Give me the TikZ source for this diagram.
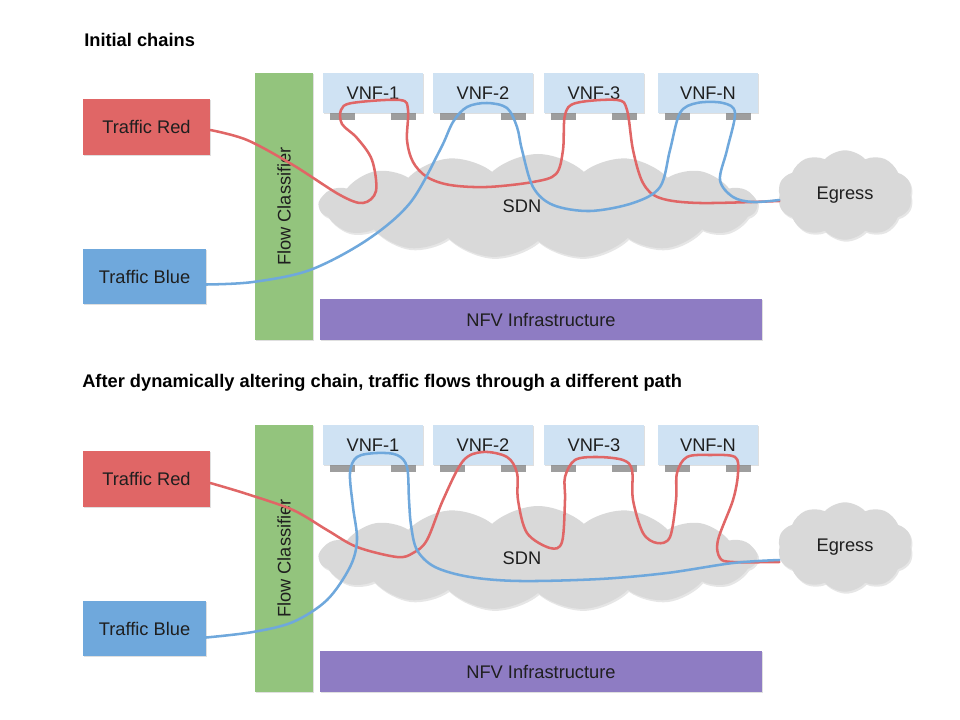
\documentclass[tikz,border=0pt]{standalone}
\usepackage{fontspec}
\setmainfont{Liberation Sans}
\usetikzlibrary{calc,positioning,shapes.symbols,shadows}
\definecolor{trred}{HTML}{E06666}
\definecolor{trblue}{HTML}{6FA8DC}
\definecolor{classgreen}{HTML}{93C47D}
\definecolor{nfvpurple}{HTML}{8E7CC3}
\definecolor{vnfblue}{HTML}{CFE2F3}
\definecolor{cloudgray}{HTML}{D9D9D9}
\definecolor{portgray}{HTML}{9E9E9E}
\definecolor{txt}{HTML}{1F1F1F}
\tikzset{
    box/.style={
    rectangle,inner sep=0pt,text=txt,font=\fontsize{13.7}{16}\selectfont,
    drop shadow={opacity=0.25,shadow xshift=1pt,shadow yshift=-1pt}
    },
    trafficred/.style={box,fill=trred,minimum width=95.25pt,minimum height=42pt},
    trafficblue/.style={box,fill=trblue,minimum width=92.25pt,minimum height=41.25pt},
    classifier/.style={box,fill=classgreen,minimum width=43.5pt,minimum height=200.25pt},
    vnf/.style={box,fill=vnfblue,minimum width=75pt,minimum height=30pt},
    port/.style={rectangle,inner sep=0pt,fill=portgray,minimum width=18.75pt,minimum height=5.5pt},
    nfv/.style={box,fill=nfvpurple,minimum width=331.5pt,minimum height=30.75pt},
    sdncloud/.style={cloud,cloud puffs=15,cloud puff arc=85,aspect=4.2,fill=cloudgray,
    inner sep=0pt,minimum width=328pt,minimum height=78pt,text=txt,font=\fontsize{13.7}{16}\selectfont,
    drop shadow={opacity=0.2,shadow xshift=1pt,shadow yshift=-1.5pt}},
    egcloud/.style={cloud,cloud puffs=10,cloud puff arc=95,aspect=1.5,fill=cloudgray,
    inner sep=0pt,minimum width=101pt,minimum height=67pt,text=txt,font=\fontsize{13.7}{16}\selectfont,
    drop shadow={opacity=0.2,shadow xshift=1pt,shadow yshift=-1.5pt}},
    heading/.style={anchor=west,inner sep=0pt,text=black,font=\bfseries\fontsize{13.7}{16}\selectfont},
    redflow/.style={draw=trred,line width=1.9pt,line cap=round},
    blueflow/.style={draw=trblue,line width=1.9pt,line cap=round}
}
\begin{document}
\begin{tikzpicture}[x=0.75pt,y=-0.75pt]
    \useasboundingbox (0,0) rectangle (960,720);

    \node[heading] (head1) at (84,40) {Initial chains};
    \node[heading] (head2) at (82,383) {After dynamically altering chain, traffic flows through a different path};

    % both panels are drawn the same, only the flows differ
    \foreach \p/\dy in {1/0,2/352} {
      \node[trafficred] (tr\p) at (146.5,{127+\dy}) {Traffic Red};
      \node[trafficblue] (tb\p) at (144.5,{276.5+\dy}) {Traffic Blue};
      \node[classifier] (fc\p) at (284,{206.5+\dy}) {};
      \node[rotate=90,text=txt,font=\fontsize{13.7}{16}\selectfont] at (fc\p.center) {Flow Classifier};

      \node[sdncloud,label={[xshift=-12pt,text=txt,font=\fontsize{13.7}{16}\selectfont]center:SDN}] (sdn\p) at (538,{206+\dy}) {};
      \node[egcloud] (eg\p) at (845,{195+\dy}) {Egress};
      \node[nfv] (nfv\p) at (541,{319.5+\dy}) {NFV Infrastructure};

      \foreach \v/\x/\t in {1/373/VNF-1,2/483/VNF-2,3/594/VNF-3,4/708/VNF-N} {
        \node[port] (pl\p\v) at (\x-30.5,{116+\dy}) {};
        \node[port] (pr\p\v) at (\x+30.5,{116+\dy}) {};
        \node[vnf] (vnf\p\v) at (\x,{93+\dy}) {\t};
      }
    }

    % initial chains
    \draw[redflow] plot[smooth,tension=0.55] coordinates {($(tr1.east)+(0,3)$) (247,140) (293,165) (340,195) (363,203)
      (376,191) (372,160) (357,138) (342,124) (341,110) (352,103) (400,100) (408,110) (407,140) (413,162) (427,177)
      (450,185) (487,187) (533,182) (556,174) (563,150) (565,115) (576,103) (617,100) (627,110) (633,150) (643,183)
      (660,198) (700,203) ($(eg1.west)+(0,6)$)};
    \draw[blueflow] plot[smooth,tension=0.55] coordinates {($(tb1.east)+(0,8)$) (253,282) (310,270) (367,240) (410,203)
      (440,150) (453,122) (467,107) (487,103) (507,108) (517,127) (522,150) (533,187) (553,205) (590,211) (633,203)
      (660,187) (670,150) (680,113) (697,103) (723,103) (735,113) (727,150) (720,180) (733,197) (753,202)
      ($(eg1.west)+(0,5)$)};

    % altered chain
    \draw[redflow] plot[smooth,tension=0.55] coordinates {($(tr2.east)+(0,4)$) (247,494) (293,510) (327,530) (357,547)
      (397,557) (413,553) (427,540) (443,500) (463,461) (483,452) (507,457) (517,473) (518,500) (527,533) (550,548)
      (562,542) (565,500) (565,477) (575,460) (597,457) (623,460) (632,470) (633,500) (643,533) (657,543) (670,537)
      (676,500) (677,473) (687,457) (710,455) (735,457) (738,473) (733,500) (718,540) (720,558) (733,562)
      ($(eg2.west)+(0,15)$)};
    \draw[blueflow] plot[smooth,tension=0.55] coordinates {($(tb2.east)+(0,9)$) (253,632) (293,622) (327,600) (350,567)
      (357,540) (353,507) (350,473) (357,457) (377,453) (397,455) (407,467) (409,500) (411,525) (417,550) (435,567)
      (470,577) (520,581) (600,579) (667,573) (733,563) ($(eg2.west)+(0,13)$)};
\end{tikzpicture}
\end{document}
